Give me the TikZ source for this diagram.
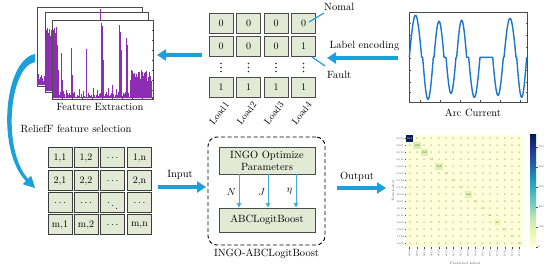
\documentclass[tikz,border=0pt]{standalone}
\usepackage{fontspec}
\usetikzlibrary{arrows.meta}
\definecolor{ablue}{RGB}{27,160,220}
\definecolor{cellg}{RGB}{226,234,214}
\definecolor{frameg}{RGB}{75,75,75}
\definecolor{purp}{RGB}{140,45,180}
\definecolor{wavec}{RGB}{28,118,205}
\definecolor{ylA}{HTML}{FFFFD9}
\definecolor{ylB}{HTML}{EDF8B1}
\definecolor{ylC}{HTML}{C7E9B4}
\definecolor{ylD}{HTML}{7FCDBB}
\definecolor{ylE}{HTML}{41B6C4}
\definecolor{ylF}{HTML}{1D91C0}
\definecolor{ylG}{HTML}{225EA8}
\definecolor{ylH}{HTML}{253494}
\definecolor{ylI}{HTML}{081D58}
\newcommand{\cmcell}[5]{%
  \fill[#4] ({406+7.3125*#2},{135+7*#1}) rectangle ++(7.3125,7);
  \node[cmnum,text=#5] (cmv#1-#2) at ({409.656+7.3125*#2},{138.5+7*#1}) {#3};}
\newcommand{\nzmark}[2]{\expandafter\gdef\csname nzx#1x#2\endcsname{}}
\nzmark{0}{0}\nzmark{1}{1}\nzmark{1}{8}\nzmark{2}{2}\nzmark{2}{3}\nzmark{2}{6}
\nzmark{3}{3}\nzmark{3}{8}\nzmark{4}{4}\nzmark{4}{8}\nzmark{5}{5}\nzmark{6}{2}
\nzmark{6}{6}\nzmark{7}{7}\nzmark{8}{8}\nzmark{8}{12}\nzmark{9}{9}\nzmark{10}{10}
\nzmark{11}{11}\nzmark{12}{4}\nzmark{12}{8}\nzmark{12}{12}\nzmark{13}{13}
\nzmark{14}{2}\nzmark{14}{14}\nzmark{15}{2}\nzmark{15}{11}\nzmark{15}{15}
\begin{document}
\begin{tikzpicture}[x=1pt,y=-1pt,
  bigarrow/.style={line width=4pt, ablue, -{Triangle[length=9pt,width=11pt]}},
  thinarrow/.style={line width=0.9pt, ablue!85, -{Triangle[length=4.5pt,width=4.5pt]}},
  pointer/.style={line width=1.2pt, ablue},
  cellbox/.style={draw=frameg, fill=cellg, line width=0.8pt, minimum width=24, minimum height=20, inner sep=0pt, font=\fontsize{10}{12}\selectfont},
  fcell/.style={draw=frameg!80!black, fill=cellg, line width=1pt, minimum width=24, minimum height=20, inner sep=0pt, font=\fontsize{10}{12}\selectfont},
  lbl/.style={font=\fontsize{10.5}{12.5}\selectfont, inner sep=0pt},
  plotframe/.style={draw=frameg, fill=white, line width=0.9pt},
  spikel/.style={purp, line width=0.8pt},
  wavel/.style={wavec, line width=1.4pt, line join=round},
  cmnum/.style={inner sep=0pt, font=\fontsize{2.6}{3}\selectfont},
  cmlab/.style={inner sep=0pt, font=\fontsize{2.6}{3}\selectfont, text=black!75},
  tk/.style={frameg, line width=0.4pt}]
\useasboundingbox (0,0) rectangle (550,270);

% ---------- ReliefF swoosh ----------
\fill[ablue] (35,54) .. controls (4,60) and (-4,150) .. (25.9,181.1) -- (22.8,184.2) -- (35,188) -- (31.2,175.8) -- (28.1,178.9) .. controls (2,150) and (9,67) .. (35,62) -- cycle;

% ---------- Feature extraction plots ----------
\draw[plotframe] (37,7) rectangle (142,86);
\foreach \x in {47,57,...,137} \draw[tk] (\x,7) -- (\x,8.5);
\foreach \x/\t in {37.8/76,38.6/74,39.4/79,40.2/77,41/80,41.8/75,42.6/78,43.4/81,44.2/76} \draw[spikel] (\x,85.5) -- (\x,\t);
\draw[plotframe] (45,12) rectangle (148,92);
\foreach \x in {55,65,...,145} \draw[tk] (\x,12) -- (\x,13.5);
\foreach \x/\t in {45.8/40,46.6/30,47.4/28,48.2/33,49/29,49.8/31,50.6/36,51.4/30} \draw[spikel] (\x,91.5) -- (\x,\t);
\draw[spikel] (100,9) -- (100,20);
\draw[plotframe] (52,20) rectangle (153,99);
\foreach \x in {62,72,...,152} {\draw[tk] (\x,20) -- (\x,21.5); \draw[tk] (\x,99) -- (\x,97.5);}
\foreach \y in {30,40,...,90} {\draw[tk] (153,\y) -- (151.5,\y); \draw[tk] (52,\y) -- (53.5,\y);}
\pgfmathsetseed{7}
\foreach \i in {0,...,197}{
  \pgfmathsetmacro\hx{53+\i*0.5}
  \pgfmathsetmacro\hy{97.5-7*rnd*rnd}
  \draw[purp,line width=0.55pt] (\hx,98.5) -- (\hx,\hy);}
\foreach \i in {0,...,38}{
  \pgfmathsetmacro\hx{130.5+\i*0.55}
  \pgfmathsetmacro\hy{70+20*rnd}
  \draw[purp,line width=0.6pt] (\hx,98.5) -- (\hx,\hy);}
\foreach \x/\t in {53/30,54/28,55/33,56/27,57/45,58/70,61/53,62/80,66/90,71/48,72/75,79/89,83/91,86.5/49,93/88,97/90,101/23,102/26,103/60,108/88,112/85,116/89,119/25,120/32,121/50,126/38,127/45,131/80,133/74,134/82,136/77,138/72,139/85,141/70,143/78,144/73,146/71,147/82,149/72,150/76,151/85}
  \draw[spikel] (\x,98.5) -- (\x,\t);
\node[lbl] (fe) at (100,107) {Feature Extraction};

% ---------- Label matrix ----------
\foreach \cx [count=\c] in {221,248.5,276,303.5} {
  \node[cellbox] (ra\c) at (\cx,23) {0};
  \foreach \dy in {63.5,67.5,71.5} \fill[black!85] (\cx,\dy) circle (0.85);
  \node[cellbox] (rc\c) at (\cx,87) {1};
  \node[lbl, font=\fontsize{9.5}{11}\selectfont, rotate=52, anchor=east] (ld\c) at (\cx+6,103) {Load\c};
}
\foreach \cx/\v [count=\c] in {221/0,248.5/0,276/0,303.5/1}
  \node[cellbox] (rb\c) at (\cx,46.5) {\v};
\node[lbl, anchor=west] (nomal) at (324,7) {Nomal};
\node[lbl, anchor=west] (fault) at (327,75) {Fault};
\coordinate (nomA) at (309,22);
\coordinate (nomB) at (324,13);
\coordinate (fauA) at (312,57);
\coordinate (fauB) at (325,66);
\draw[pointer] (nomA) -- (nomB);
\draw[pointer] (fauA) -- (fauB);

% ---------- Arc current ----------
\node[lbl] (lenc) at (364.5,46) {Label encoding};
\draw[frameg, line width=0.9pt, fill=white] (409,12) rectangle (527,102);
\foreach \y in {23,35,47,58,70,82,92} {\draw[tk] (409,\y) -- (410.5,\y); \draw[tk] (527,\y) -- (525.5,\y);}
\foreach \x in {420,440,460,480,500,520} {\draw[tk] (\x,102) -- (\x,100.5); \draw[tk] (\x,12) -- (\x,13.5);}
\draw[wavel] ({370+118/3},57.3)
 -- plot[domain=118:155,samples=25] ({370+\x/3},{57.3-42*sin((\x-118)/37*180)})
 -- plot[domain=158:190,samples=25] ({370+\x/3},{57.3+42*sin((\x-158)/32*180)})
 -- plot[domain=192:222,samples=25] ({370+\x/3},{57.3-36*sin((\x-192)/30*180)})
 -- plot[domain=228:258,samples=25] ({370+\x/3},{57.3+36*sin((\x-228)/30*180)})
 -- plot[domain=260:290,samples=25] ({370+\x/3},{57.3-37*sin((\x-260)/30*180)})
 -- plot[domain=296:330,samples=25] ({370+\x/3},{57.3+40*sin((\x-296)/34*180)})
 -- plot[domain=368:400,samples=25] ({370+\x/3},{57.3+38*sin((\x-368)/32*180)})
 -- plot[domain=402:438,samples=25] ({370+\x/3},{57.3-39*sin((\x-402)/36*180)})
 -- plot[domain=440:470,samples=25] ({370+\x/3},{57.3+40*sin((\x-440)/30*180)});
\node[lbl] (arc) at (473,113) {Arc Current};
\coordinate (encS) at (398,58);
\coordinate (encE) at (327,58);
\draw[bigarrow] (encS) -- (encE);
\coordinate (feS) at (202,55);
\coordinate (feE) at (157,55);
\draw[bigarrow] (feS) -- (feE);
\node[lbl] (relief) at (76,129) {ReliefF feature selection};

% ---------- Feature matrix ----------
\node[fcell] (f11) at (60,158) {1,1};
\node[fcell] (f12) at (86,158) {1,2};
\node[fcell] (f13) at (112.5,158) {$\cdots$};
\node[fcell] (f14) at (139.5,158) {1,n};
\node[fcell] (f21) at (60,181) {2,1};
\node[fcell] (f22) at (86,181) {2,2};
\node[fcell] (f23) at (112.5,181) {$\cdots$};
\node[fcell] (f24) at (139.5,181) {2,n};
\node[fcell] (f31) at (60,203) {$\cdots$};
\node[fcell] (f32) at (86,203) {$\cdots$};
\node[fcell] (f33) at (112.5,203) {$\ddots$};
\node[fcell] (f34) at (139.5,203) {$\cdots$};
\node[fcell] (f41) at (60,225) {m,1};
\node[fcell] (f42) at (86,225) {m,2};
\node[fcell] (f43) at (112.5,225) {$\cdots$};
\node[fcell] (f44) at (139.5,225) {m,n};

% ---------- INGO-ABCLogitBoost ----------
\node[lbl] (inp) at (180,175) {Input};
\coordinate (inS) at (158,187);
\coordinate (inE) at (206,187);
\draw[bigarrow] (inS) -- (inE);
\node[draw, dashed, dash pattern=on 4pt off 2.5pt, rounded corners=9pt, line width=0.9pt, minimum width=117, minimum height=108, inner sep=0pt] (dbox) at (266.5,191) {};
\node[lbl] (dlab) at (266.5,254) {INGO-ABCLogitBoost};
\node[draw=frameg, fill=cellg, line width=0.9pt, minimum width=96, minimum height=27, inner sep=0pt, align=center, font=\fontsize{10.5}{12}\selectfont] (ingo) at (267,160.5) {INGO Optimize\\Parameters};
\node[draw=frameg, fill=cellg, line width=0.9pt, minimum width=96, minimum height=24, inner sep=0pt, font=\fontsize{10.5}{12}\selectfont] (abc) at (267,220) {ABCLogitBoost};
\draw[thinarrow] ([xshift=-28pt]ingo.south) -- ([xshift=-28pt]abc.north);
\draw[thinarrow] ([xshift=1pt]ingo.south) -- ([xshift=1pt]abc.north);
\draw[thinarrow] ([xshift=29pt]ingo.south) -- ([xshift=29pt]abc.north);
\node[inner sep=0pt, font=\fontsize{10}{12}\selectfont] (pN) at (231.5,192) {$N$};
\node[inner sep=0pt, font=\fontsize{10}{12}\selectfont] (pJ) at (262,192) {$J$};
\node[inner sep=0pt, font=\fontsize{10}{12}\selectfont] (pE) at (289.5,191) {$\eta$};
\node[lbl] (outp) at (357,177) {Output};
\coordinate (outS) at (337,188);
\coordinate (outE) at (386,188);
\draw[bigarrow] (outS) -- (outE);

% ---------- Confusion matrix ----------
\fill[ylA] (406,135) rectangle (523,247);
\foreach \r in {0,...,15} \foreach \c in {0,...,15} {
  \ifcsname nzx\r x\c\endcsname\else
  \node[cmnum, text=black!70] (cm\r-\c) at ({409.656+7.3125*\c},{138.5+7*\r}) {0};
  \fi}
\cmcell{0}{0}{841}{ylI}{white}
\cmcell{1}{1}{153}{ylC!45!ylB}{black!80}
\cmcell{1}{8}{1}{ylA}{black!70}
\cmcell{2}{2}{152}{ylC!45!ylB}{black!80}
\cmcell{2}{3}{1}{ylA}{black!70}
\cmcell{2}{6}{2}{ylA}{black!70}
\cmcell{3}{3}{16}{ylB!16!ylA}{black!70}
\cmcell{3}{8}{1}{ylA}{black!70}
\cmcell{4}{4}{153}{ylC!45!ylB}{black!80}
\cmcell{4}{8}{1}{ylA}{black!70}
\cmcell{5}{5}{18}{ylB!17!ylA}{black!70}
\cmcell{6}{2}{2}{ylA}{black!70}
\cmcell{6}{6}{16}{ylB!16!ylA}{black!70}
\cmcell{7}{7}{15}{ylB!15!ylA}{black!70}
\cmcell{8}{8}{140}{ylC!33!ylB}{black!80}
\cmcell{8}{12}{1}{ylA}{black!70}
\cmcell{9}{9}{18}{ylB!17!ylA}{black!70}
\cmcell{10}{10}{19}{ylB!18!ylA}{black!70}
\cmcell{11}{11}{21}{ylB!20!ylA}{black!70}
\cmcell{12}{4}{2}{ylA}{black!70}
\cmcell{12}{8}{1}{ylA}{black!70}
\cmcell{12}{12}{69}{ylB!66!ylA}{black!75}
\cmcell{13}{13}{21}{ylB!20!ylA}{black!70}
\cmcell{14}{2}{2}{ylA}{black!70}
\cmcell{14}{14}{17}{ylB!16!ylA}{black!70}
\cmcell{15}{2}{1}{ylA}{black!70}
\cmcell{15}{11}{2}{ylA}{black!70}
\cmcell{15}{15}{16}{ylB!16!ylA}{black!70}
\foreach \lab [count=\r from 0] in {0000,0001,0010,0011,0100,0101,0110,0111,1000,1001,1010,1011,1100,1101,1110,1111} {
  \draw[tk] (404.5,{138.5+7*\r}) -- (406,{138.5+7*\r});
  \node[cmlab, anchor=east] (rl\r) at (404,{138.5+7*\r}) {\lab};
  \draw[tk] ({409.656+7.3125*\r},247) -- ({409.656+7.3125*\r},248.5);
  \node[cmlab, rotate=90, anchor=east] (cl\r) at ({409.656+7.3125*\r},249.5) {\lab};
}
\node[cmlab, rotate=90, font=\fontsize{3.2}{4}\selectfont] (tl) at (393,191) {True Label};
\node[cmlab, font=\fontsize{3.2}{4}\selectfont] (pl) at (465,263.5) {Predicted Label};
% colorbar
\foreach \ca/\cb [count=\k from 0] in {ylA/ylB,ylB/ylC,ylC/ylD,ylD/ylE,ylE/ylF,ylF/ylG,ylG/ylH,ylH/ylI}
  \shade[bottom color=\ca, top color=\cb] (530,{247-14*\k+0.2}) rectangle (536,{247-14*(\k+1)});
\foreach \v in {0,150,300,450,600,750} {
  \pgfmathsetmacro\ty{247-\v/841*112}
  \draw[tk] (536,\ty) -- (537.5,\ty);
  \node[cmlab, anchor=west] (cb\v) at (538.5,\ty) {\v};
}
\end{tikzpicture}
\end{document}
